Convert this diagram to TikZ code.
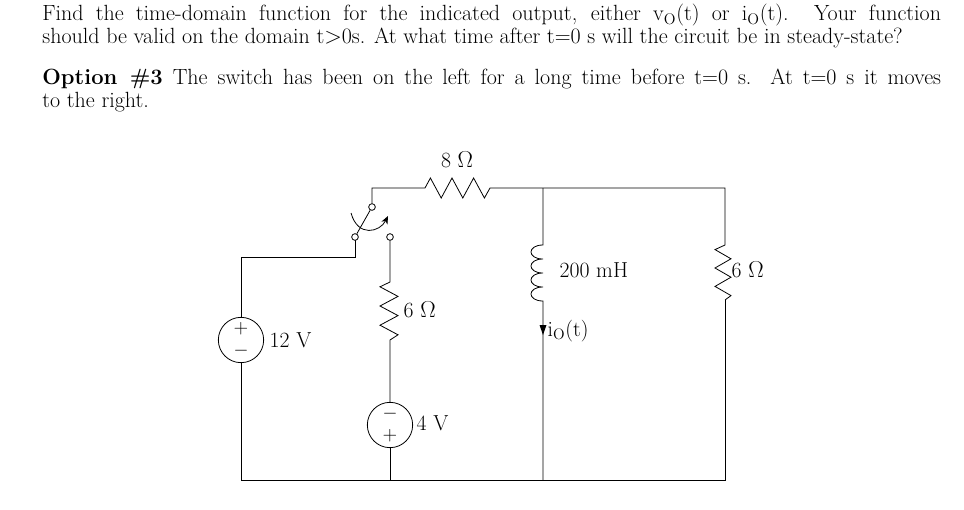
\documentclass[tikz,border=0pt]{standalone}
\usetikzlibrary{arrows.meta}
\begin{document}
\begin{tikzpicture}[x=0.75pt,y=-0.75pt,line width=0.6pt,
  src/.style={circle,draw,minimum size=34pt,inner sep=0pt},
  term/.style={circle,draw,fill=white,minimum size=5pt,inner sep=0pt},
  lbl/.style={font=\fontsize{16.3}{17}\selectfont,inner sep=1pt},
  pm/.style={font=\fontsize{14}{14}\selectfont,inner sep=0pt}]
\useasboundingbox (0,0) rectangle (964,510);
\node[anchor=north west,text width=674pt,align=justify,inner sep=0pt,font=\fontsize{16.5}{17.3}\selectfont] (txt) at (42,4)
{Find the time-domain function for the indicated output, either v\textsubscript{O}(t) or i\textsubscript{O}(t). Your function\linebreak should be valid on the domain t$>$0s. At what time after t=0 s will the circuit be in steady-state?\par\vspace{13pt}
\textbf{Option \#3} The switch has been on the left for a long time before t=0 s. At t=0 s it moves\linebreak to the right.};
\coordinate (bl) at (241,480); \coordinate (br) at (725,480);
\coordinate (tl) at (241,257); \coordinate (pv) at (355,237);
\coordinate (tc) at (372,207); \coordinate (rc) at (390,237);
\coordinate (tt) at (372,188); \coordinate (tr) at (725,188);
\node[src] (v1) at (241,340) {};
\node[pm] at (241,329) {$+$}; \node[pm] at (241,351) {$-$};
\node[lbl,anchor=west] at (268,340) {12 V};
\draw (v1.south) -- (bl) -- (br) -- (725,300);
\draw (v1.north) -- (tl) -- (355,257) -- (pv);
\node[term] (pvn) at (pv) {}; \node[term] (tcn) at (tc) {}; \node[term] (rcn) at (rc) {};
\draw (pvn) -- (tcn);
\draw[-{Stealth[length=6pt,width=5pt]}] (351,213) .. controls (358,238) and (380,232) .. (388,216);
\draw (tcn) -- (tt) -- (425,188)
  -- (430.4,178) -- (441.2,198) -- (452,178) -- (462.8,198) -- (473.6,178) -- (484.4,198) -- (490,188) -- (tr) -- (725,245)
  -- (715,249.6) -- (731,258.8) -- (715,268) -- (731,277.2) -- (715,286.4) -- (731,295.6) -- (725,300);
\node[lbl] at (457,160) {8 $\Omega$};
\node[lbl,anchor=west] at (730,270) {6 $\Omega$};
\draw (543,188) -- (543,245)
 .. controls (527,245) and (527,259) .. (543,259)
 .. controls (527,259) and (527,273) .. (543,273)
 .. controls (527,273) and (527,287) .. (543,287)
 .. controls (527,287) and (527,301) .. (543,301) -- (543,480);
\node[lbl,anchor=west] at (558,270) {200 mH};
\fill (539.5,325) -- (546.5,325) -- (543,335) -- cycle;
\node[lbl,anchor=west] at (546,331) {i\textsubscript{O}(t)};
\node[src] (v2) at (390,425) {};
\node[pm] at (390,414) {$-$}; \node[pm] at (390,436) {$+$};
\node[lbl,anchor=west] at (415,423) {4 V};
\draw (rcn) -- (390,282) -- (380,286.8) -- (398,296.4) -- (380,306) -- (398,315.6) -- (380,325.2) -- (398,334.8) -- (390,340) -- (v2.north);
\draw (v2.south) -- (390,480);
\node[lbl,anchor=west] at (402,310) {6 $\Omega$};
\end{tikzpicture}
\end{document}
